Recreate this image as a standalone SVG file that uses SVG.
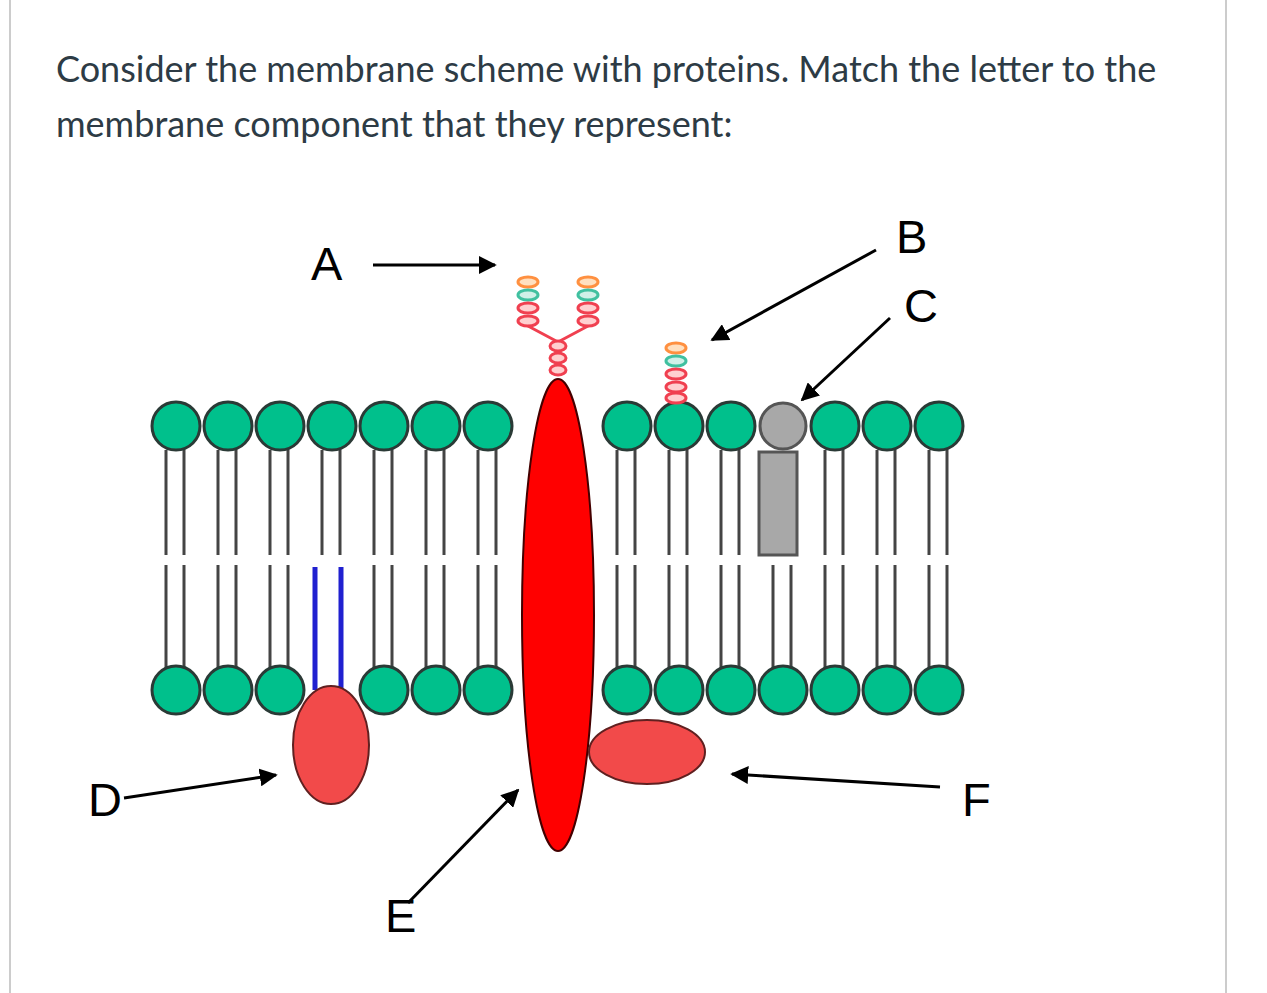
<svg xmlns="http://www.w3.org/2000/svg" width="1267" height="993" viewBox="0 0 1267 993">
<defs>
<style>
.q{font-family:Lato,"Open Sans",sans-serif;font-size:36px;fill:#2d3b45}
.l{font-family:"Liberation Sans",Arial,sans-serif;font-size:47px;fill:#000}
.h{fill:#00c08c;stroke:#2a3a36;stroke-width:3}
.t{stroke:#444;stroke-width:3}
.c{stroke:#000;stroke-width:3;fill:none;marker-end:url(#ah)}
.s{fill:#ffd0d0;stroke:#f04050;stroke-width:3}
</style>
<marker id="ah" viewBox="0 0 10 10" refX="9" refY="5" markerWidth="6" markerHeight="6" orient="auto" markerUnits="strokeWidth"><path d="M0,0L10,5L0,10z" fill="#000"/></marker>
<g id="tailL"><path class="t" d="M-10,450V555M8,450V555M-10,565V668M8,565V668"/></g>
<g id="tailS"><path class="t" d="M-10,450V555M8,450V555"/></g>
<g id="tailB"><path class="t" d="M-10,565V668M8,565V668"/></g>
<g id="sug"><ellipse class="s" cx="0" cy="0" rx="10" ry="5" style="stroke:#ff9040;fill:#ffe0c0"/><ellipse class="s" cx="0" cy="13" rx="10" ry="5" style="stroke:#40c0a0;fill:#d0f0e8"/><ellipse class="s" cx="0" cy="26" rx="10" ry="5"/><ellipse class="s" cx="0" cy="39" rx="10" ry="5"/></g>
</defs>
<rect width="1267" height="993" fill="#fff"/>
<path d="M10,0V993M1226,0V993" stroke="#ccc" stroke-width="2"/>
<g id="question">
<text class="q" x="56" y="82">Consider the membrane scheme with proteins. Match the letter to the</text>
<text class="q" x="56" y="137">membrane component that they represent:</text>
</g>
<g id="bilayer">
<use href="#tailL" x="176"/><use href="#tailL" x="228"/><use href="#tailL" x="280"/><use href="#tailS" x="332"/><use href="#tailL" x="384"/><use href="#tailL" x="436"/><use href="#tailL" x="488"/>
<use href="#tailL" x="627"/><use href="#tailL" x="679"/><use href="#tailL" x="731"/><use href="#tailB" x="783"/><use href="#tailL" x="835"/><use href="#tailL" x="887"/><use href="#tailL" x="939"/>
<path d="M315,567V690M341,567V690" stroke="#2020d0" stroke-width="5"/>
<g>
<circle class="h" cx="176" cy="426" r="24"/><circle class="h" cx="228" cy="426" r="24"/><circle class="h" cx="280" cy="426" r="24"/><circle class="h" cx="332" cy="426" r="24"/><circle class="h" cx="384" cy="426" r="24"/><circle class="h" cx="436" cy="426" r="24"/><circle class="h" cx="488" cy="426" r="24"/>
<circle class="h" cx="627" cy="426" r="24"/><circle class="h" cx="679" cy="426" r="24"/><circle class="h" cx="731" cy="426" r="24"/><circle class="h" cx="835" cy="426" r="24"/><circle class="h" cx="887" cy="426" r="24"/><circle class="h" cx="939" cy="426" r="24"/>
<circle class="h" cx="176" cy="690" r="24"/><circle class="h" cx="228" cy="690" r="24"/><circle class="h" cx="280" cy="690" r="24"/><circle class="h" cx="384" cy="690" r="24"/><circle class="h" cx="436" cy="690" r="24"/><circle class="h" cx="488" cy="690" r="24"/>
<circle class="h" cx="627" cy="690" r="24"/><circle class="h" cx="679" cy="690" r="24"/><circle class="h" cx="731" cy="690" r="24"/><circle class="h" cx="783" cy="690" r="24"/><circle class="h" cx="835" cy="690" r="24"/><circle class="h" cx="887" cy="690" r="24"/><circle class="h" cx="939" cy="690" r="24"/>
</g>
</g>
<g id="cholesterol">
<circle cx="783" cy="426" r="23" fill="#a8a8a8" stroke="#555" stroke-width="3"/>
<rect x="759" y="452" width="38" height="103" fill="#a8a8a8" stroke="#555" stroke-width="3"/>
</g>
<g id="glycoprotein">
<use href="#sug" x="528" y="282"/><use href="#sug" x="588" y="282"/>
<path d="M528,326L558,342M588,326L558,342" stroke="#f04050" stroke-width="3"/>
<ellipse class="s" cx="558" cy="346" rx="8" ry="5"/><ellipse class="s" cx="558" cy="358" rx="8" ry="5"/><ellipse class="s" cx="558" cy="370" rx="8" ry="5"/>
<ellipse cx="558" cy="615" rx="36" ry="236" fill="#f00" stroke="#400" stroke-width="2"/>
</g>
<g id="glycolipid"><use href="#sug" x="676" y="348"/><ellipse class="s" cx="676" cy="398" rx="10" ry="5"/></g>
<g id="peripheralD"><ellipse cx="331" cy="745" rx="38" ry="59" fill="#f24a4a" stroke="#602020" stroke-width="2"/></g>
<g id="peripheralF"><ellipse cx="647" cy="752" rx="58" ry="32" fill="#f24a4a" stroke="#602020" stroke-width="2"/></g>
<g id="connectors">
<path class="c" d="M373,265H495"/>
<path class="c" d="M876,250L712,340"/>
<path class="c" d="M890,318L802,400"/>
<path class="c" d="M124,798L276,775"/>
<path class="c" d="M408,903L518,790"/>
<path class="c" d="M940,787L732,774"/>
</g>
<g id="labels">
<text class="l" x="311" y="280">A</text>
<text class="l" x="896" y="253">B</text>
<text class="l" x="904" y="322">C</text>
<text class="l" x="88" y="816">D</text>
<text class="l" x="385" y="932">E</text>
<text class="l" x="962" y="816">F</text>
</g>
</svg>
